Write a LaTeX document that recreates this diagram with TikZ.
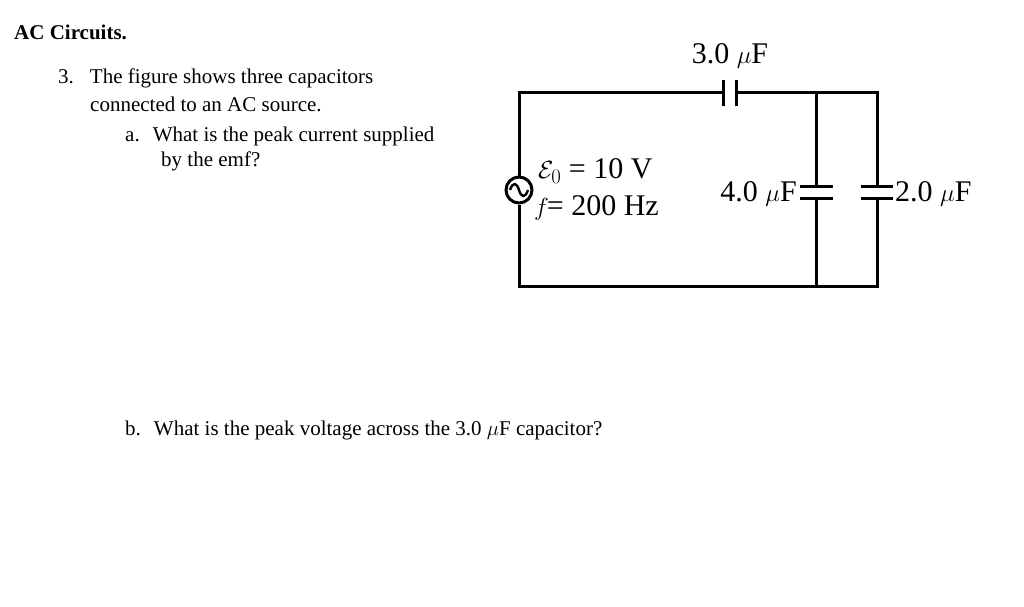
\documentclass[tikz,border=0pt]{standalone}
\usepackage{fontspec}
\setmainfont{Liberation Serif}
\begin{document}
\begin{tikzpicture}[x=1pt,y=-1pt,
  wire/.style={line width=3pt},
  txt/.style={anchor=base west,inner sep=0pt,font=\fontsize{21}{24}\selectfont},
  lbl/.style={inner sep=0pt,font=\fontsize{30}{34}\selectfont}]
\useasboundingbox (0,0) rectangle (1024,606);
\node[txt,font=\bfseries\fontsize{21}{24}\selectfont] (t) at (14,39) {AC Circuits.};
\node[txt] (q3) at (58,83) {3.\hspace{16pt}The figure shows three capacitors};
\node[txt] (q3b) at (90,111) {connected to an AC source.};
\node[txt] (qa) at (125,141) {a.\hspace{13pt}What is the peak current supplied};
\node[txt] (qab) at (161,166) {by the emf?};
\node[txt] (qb) at (125,435) {b.\hspace{13pt}What is the peak voltage across the 3.0 $\mu$F capacitor?};
% circuit
\coordinate (tl) at (519,92); \coordinate (bl) at (519,286);
\coordinate (tm) at (816,92); \coordinate (bm) at (816,286);
\coordinate (tr) at (877,92); \coordinate (br) at (877,286);
\node[draw,circle,line width=3pt,minimum size=26pt,inner sep=0pt] (src) at (519,190) {};
\draw[line width=2.4pt] (510,190) .. controls (513,181) and (517,183) .. (519,190) .. controls (521,197) and (525,199) .. (528,190);
\draw[wire] (src.north) -- (tl) -- (723,92);
\draw[wire] (736,92) -- (tr) -- (877,186);
\draw[wire] (src.south) -- (bl) -- (br) -- (877,198);
\draw[wire] (723,80) -- (723,106); \draw[wire] (736,80) -- (736,106);
\draw[wire] (tm) -- (816,186); \draw[wire] (816,198) -- (bm);
\draw[wire] (800,186) -- (833,186); \draw[wire] (800,198) -- (833,198);
\draw[wire] (861,186) -- (893,186); \draw[wire] (861,198) -- (893,198);
\node[lbl] (c1) at (730,56) {3.0 $\mu$F};
\node[lbl,anchor=east] (c2) at (797,194) {4.0 $\mu$F};
\node[lbl,anchor=west] (c3) at (895,194) {2.0 $\mu$F};
\node[lbl,anchor=west] (e) at (538,171) {$\mathcal{E}_0$ = 10 V};
\node[lbl,anchor=west] (f) at (534,208) {$f$\kern-2pt = 200 Hz};
\end{tikzpicture}
\end{document}
